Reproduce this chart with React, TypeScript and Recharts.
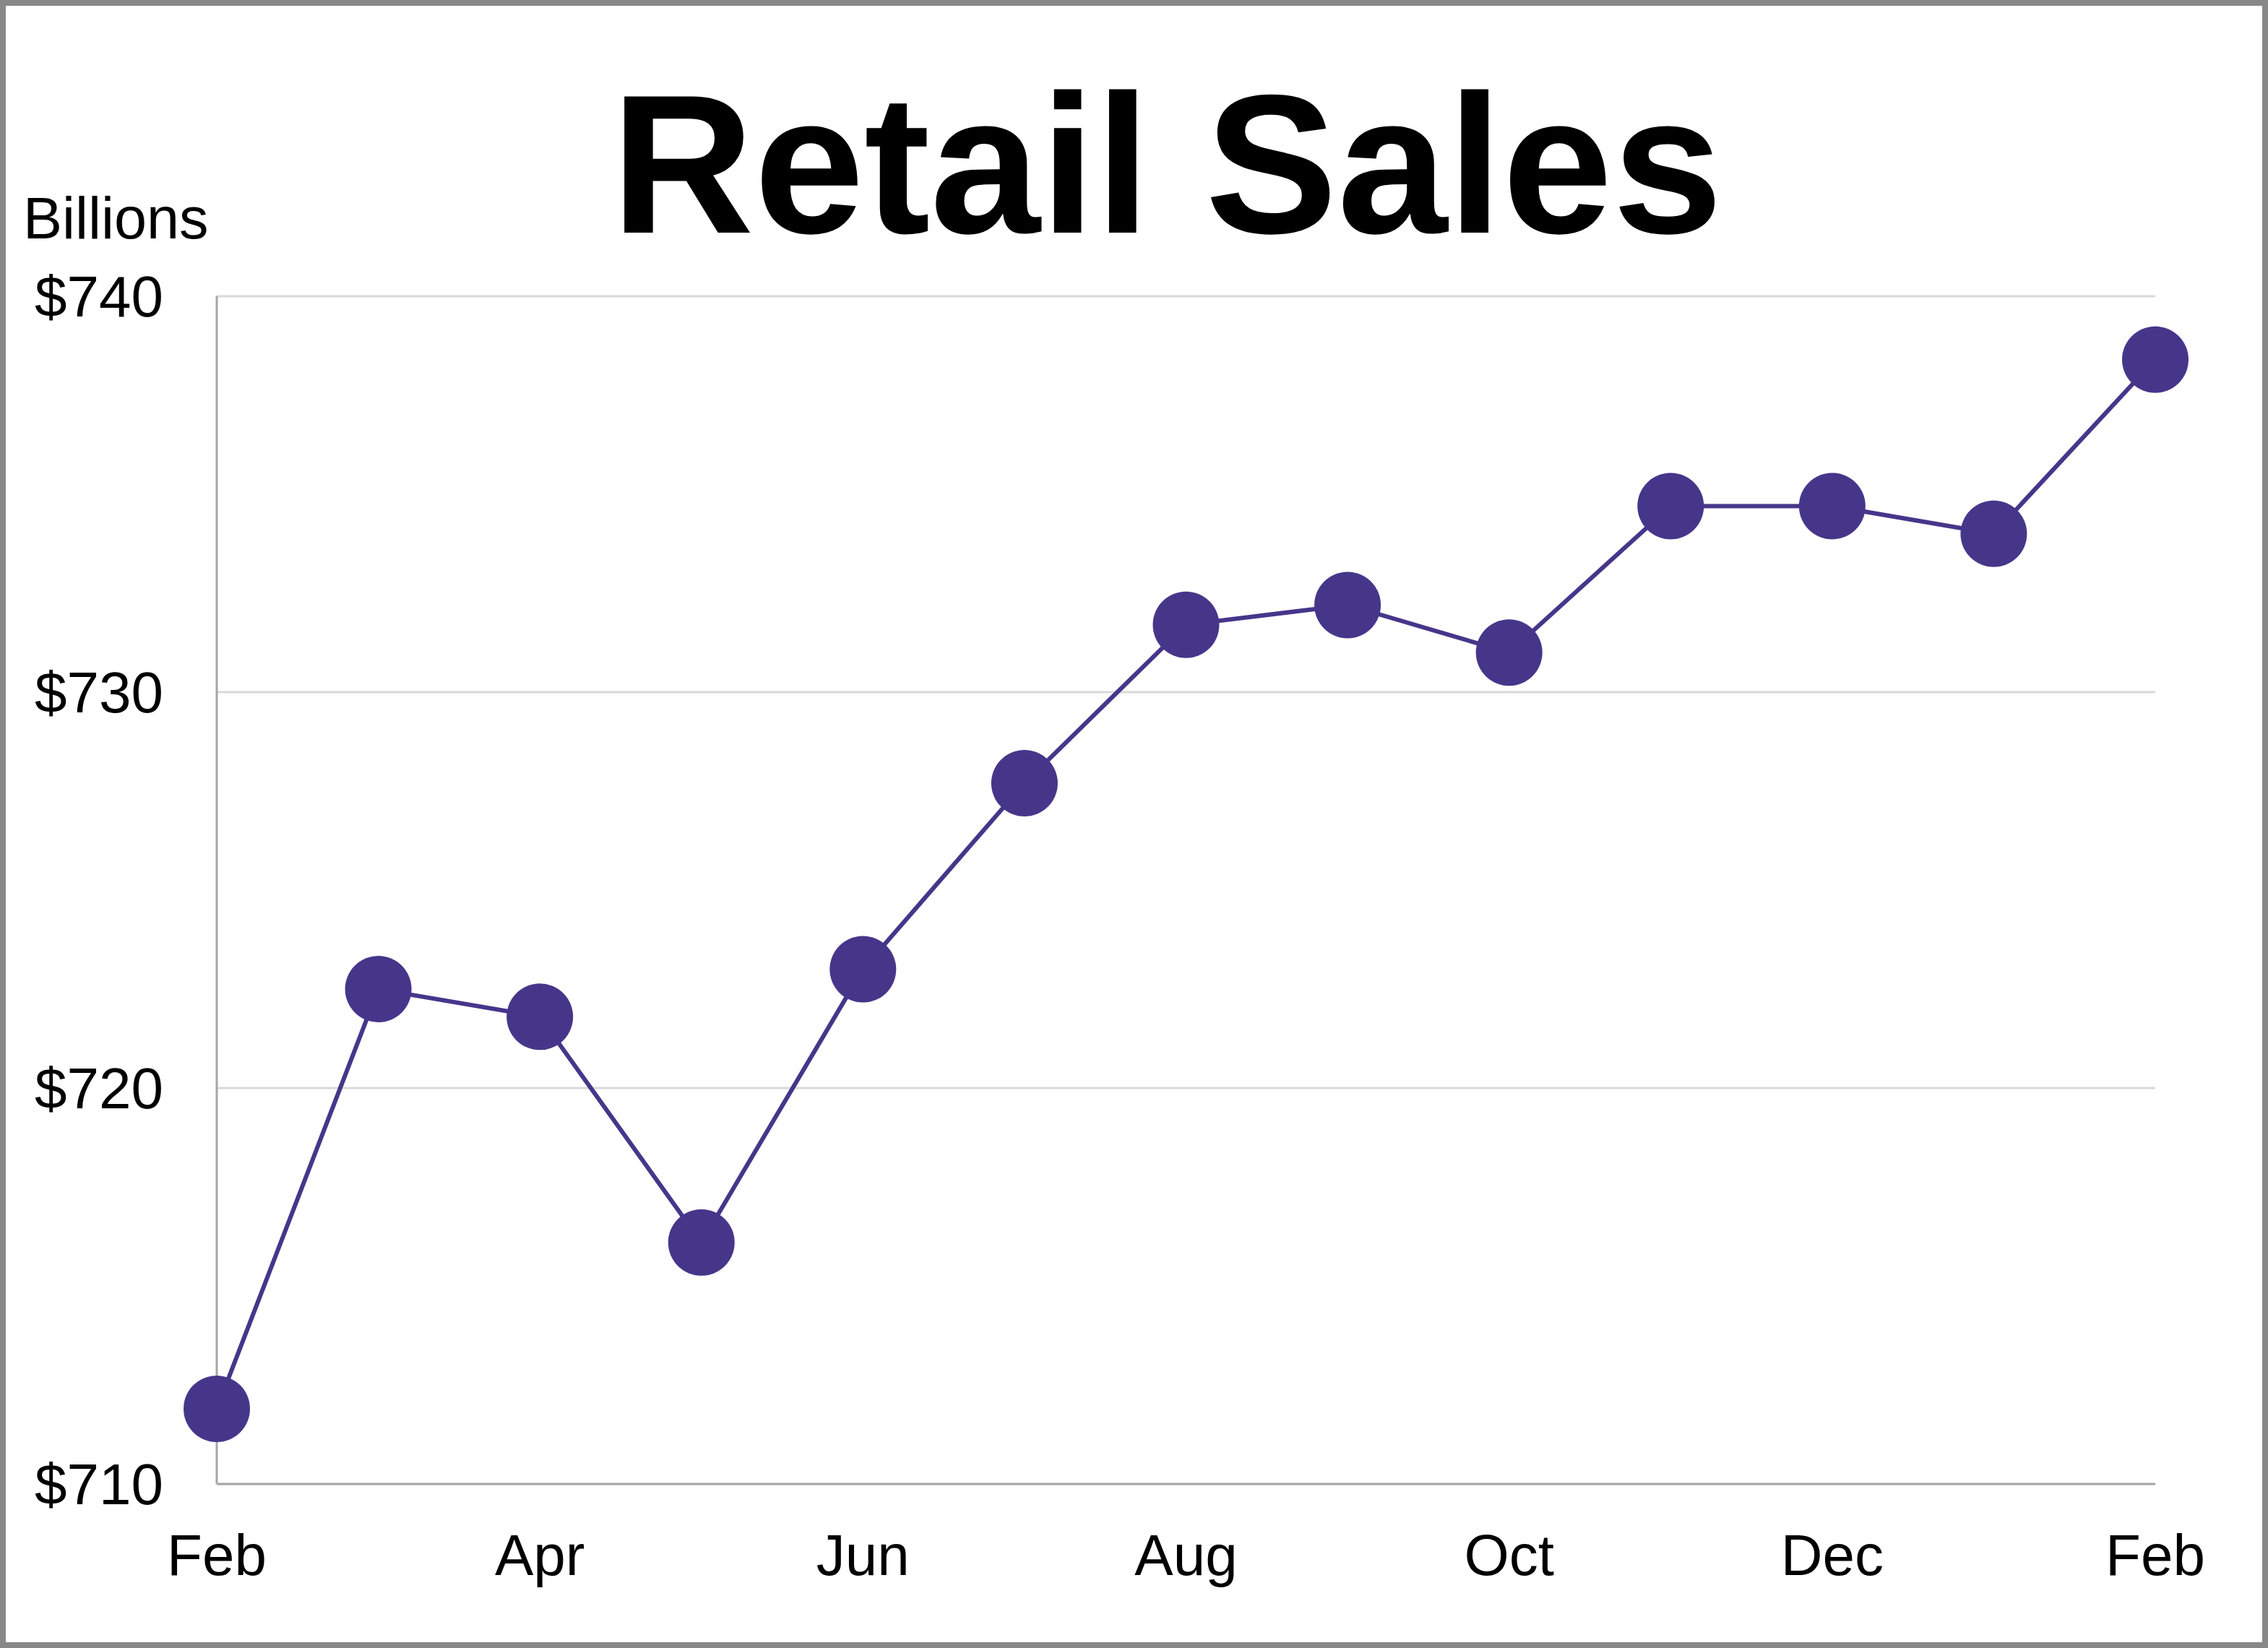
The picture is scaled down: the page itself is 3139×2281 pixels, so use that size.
import React from 'react';
import { LineChart, Line, XAxis, YAxis, CartesianGrid } from 'recharts';

const months = ['Feb', 'Mar', 'Apr', 'May', 'Jun', 'Jul', 'Aug', 'Sep', 'Oct', 'Nov', 'Dec', 'Jan', 'Feb'];
const sales = [711.9, 722.5, 721.8, 716.1, 723.0, 727.7, 731.7, 732.2, 731.0, 734.7, 734.7, 734.0, 738.4];
const yTicks = [710, 720, 730, 740];
const title = 'Retail Sales';
const unitLabel = 'Billions';

const data = months.map((m, i) => ({ month: m, value: sales[i] }));

const W = 3139;
const H = 2281;
const FONT = '"Liberation Sans", Arial, sans-serif';
const COLOR = '#46368a';

export default function App() {
  return (
    <div style={{ position: 'absolute', left: 0, top: 0, width: W, height: H, background: '#fff' }}>
      <LineChart
        width={W}
        height={H}
        data={data}
        margin={{ top: 410, right: 156, bottom: 0, left: 50 }}
      >
        <CartesianGrid vertical={false} stroke="#d9d9d9" strokeWidth={3} />
        <XAxis
          dataKey="month"
          interval={1}
          tickLine={false}
          tickSize={0}
          tickMargin={69}
          axisLine={{ stroke: '#a6a6a6', strokeWidth: 3 }}
          tick={{ fill: '#000', fontSize: 80, fontFamily: FONT }}
          height={227}
        />
        <YAxis
          domain={[710, 740]}
          ticks={yTicks}
          width={250}
          tickLine={false}
          tickSize={0}
          tickMargin={74}
          axisLine={{ stroke: '#a6a6a6', strokeWidth: 3 }}
          tick={{ fill: '#000', fontSize: 80, fontFamily: FONT }}
          tickFormatter={(v: number) => `$${v}`}
        />
        <Line
          type="linear"
          dataKey="value"
          stroke={COLOR}
          strokeWidth={6}
          dot={{ r: 46, fill: COLOR, stroke: 'none', strokeWidth: 0 }}
          activeDot={false}
          isAnimationActive={false}
        />
      </LineChart>
      <svg
        width={W}
        height={H}
        style={{ position: 'absolute', left: 0, top: 0, pointerEvents: 'none' }}
      >
        <text x={1615} y={322} textAnchor="middle" fontFamily={FONT} fontWeight="bold" fontSize={274} fill="#000">
          {title}
        </text>
        <text x={32} y={330} fontFamily={FONT} fontSize={81} fill="#000">
          {unitLabel}
        </text>
        <rect x={4} y={4} width={W - 8} height={H - 8} fill="none" stroke="#888" strokeWidth={8} />
      </svg>
    </div>
  );
}
